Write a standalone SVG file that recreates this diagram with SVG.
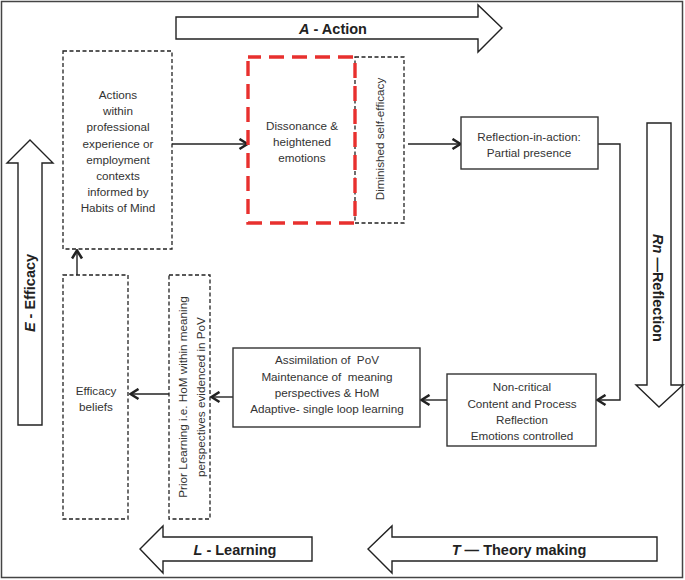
<svg xmlns="http://www.w3.org/2000/svg" width="685" height="580" viewBox="0 0 685 580">
<defs>
<style>
.t{font-family:"Liberation Sans",Arial,sans-serif;font-size:11.7px;fill:#333;text-anchor:middle;white-space:pre}
.b{font-family:"Liberation Sans",Arial,sans-serif;font-size:14.5px;font-weight:bold;fill:#222;text-anchor:middle}
.big{fill:#fff;stroke:#222;stroke-width:1.4;stroke-linejoin:miter}
.dash{fill:#fff;stroke:#222;stroke-width:1.3;stroke-dasharray:4 2.5}
.solid{fill:#fff;stroke:#333;stroke-width:1.4}
.con{fill:none;stroke:#222;stroke-width:1.4}
</style>
<marker id="ah" viewBox="0 0 11 13" refX="10" refY="6.5" markerWidth="11" markerHeight="13" markerUnits="userSpaceOnUse" orient="auto">
<path d="M1.5,1.5 L9.5,6.5 L1.5,11.5" fill="none" stroke="#222" stroke-width="2.6"/>
</marker>
</defs>
<rect x="1.5" y="1.5" width="681" height="576" fill="#fff" stroke="#444" stroke-width="1.5"/>

<g id="arrow-action">
<polygon class="big" points="176,17 478,17 478,5 502,28 478,52 478,39 176,39"/>
<text class="b" x="333" y="34"><tspan font-style="italic">A</tspan> - Action</text>
</g>
<g id="arrow-efficacy">
<polygon class="big" points="18,425 18,163 7,163 30,140 53,163 42,163 42,425"/>
<text class="b" transform="translate(35,293) rotate(-90)"><tspan font-style="italic">E</tspan> - Efficacy</text>
</g>
<g id="arrow-reflection">
<polygon class="big" points="647,123 671,123 671,385 683,385 659,407 636,385 647,385"/>
<text class="b" transform="translate(653,288) rotate(90)"><tspan font-style="italic">Rn</tspan> —Reflection</text>
</g>
<g id="arrow-learning">
<polygon class="big" points="312,537 163,537 163,526 140,549 163,573 163,561 312,561"/>
<text class="b" x="235" y="555"><tspan font-style="italic">L</tspan> - Learning</text>
</g>
<g id="arrow-theory">
<polygon class="big" points="657,537 392,537 392,526 368,549 392,573 392,561 657,561"/>
<text class="b" x="519" y="555"><tspan font-style="italic">T</tspan> — Theory making</text>
</g>

<g id="connectors">
<line class="con" x1="172" y1="144" x2="248" y2="144" marker-end="url(#ah)"/>
<line class="con" x1="408" y1="144" x2="461" y2="144" marker-end="url(#ah)"/>
<polyline class="con" points="598,144 620,144 620,400 597,400" marker-end="url(#ah)"/>
<line class="con" x1="447" y1="400" x2="421" y2="400" marker-end="url(#ah)"/>
<line class="con" x1="233" y1="397" x2="211" y2="397" marker-end="url(#ah)"/>
<line class="con" x1="169" y1="394" x2="130" y2="394" marker-end="url(#ah)"/>
<line class="con" x1="77" y1="275" x2="77" y2="250" marker-end="url(#ah)"/>
</g>

<g id="node-actions">
<rect class="dash" x="63" y="51" width="109" height="198"/>
<text class="t" x="118" y="99">Actions</text>
<text class="t" x="118" y="115.2">within</text>
<text class="t" x="118" y="131.4">professional</text>
<text class="t" x="118" y="147.6">experience or</text>
<text class="t" x="118" y="163.8">employment</text>
<text class="t" x="118" y="180">contexts</text>
<text class="t" x="118" y="196.2">informed by</text>
<text class="t" x="118" y="212.4">Habits of Mind</text>
</g>
<g id="node-diminished">
<rect class="dash" x="355" y="57" width="49" height="166"/>
<text class="t" transform="translate(384,139) rotate(-90)">Diminished self-efficacy</text>
</g>
<g id="node-dissonance">
<rect x="248" y="57" width="107" height="166" fill="none" stroke="#e8302e" stroke-width="3.4" stroke-dasharray="15 8" stroke-dashoffset="2"/>
<text class="t" x="302" y="130">Dissonance &amp;</text>
<text class="t" x="302" y="146">heightened</text>
<text class="t" x="302" y="162">emotions</text>
</g>
<g id="node-reflection-in-action">
<rect class="solid" x="461" y="117" width="137" height="52"/>
<text class="t" x="529" y="141">Reflection-in-action:</text>
<text class="t" x="529" y="157">Partial presence</text>
</g>
<g id="node-noncritical">
<rect class="solid" x="447" y="374" width="149" height="72"/>
<text class="t" x="522" y="391">Non-critical</text>
<text class="t" x="522" y="407.5">Content and Process</text>
<text class="t" x="522" y="424">Reflection</text>
<text class="t" x="522" y="440">Emotions controlled</text>
</g>
<g id="node-assimilation">
<rect class="solid" x="233" y="348" width="187" height="79"/>
<text class="t" x="327" y="364" xml:space="preserve">Assimilation of  PoV</text>
<text class="t" x="327" y="380.5" xml:space="preserve">Maintenance of  meaning</text>
<text class="t" x="327" y="397">perspectives &amp; HoM</text>
<text class="t" x="327" y="413">Adaptive- single loop learning</text>
</g>
<g id="node-prior-learning">
<rect class="dash" x="169" y="275" width="41" height="244"/>
<text class="t" transform="translate(187,397) rotate(-90)">Prior Learning i.e. HoM within meaning</text>
<text class="t" transform="translate(205,397) rotate(-90)">perspectives evidenced in PoV</text>
</g>
<g id="node-efficacy-beliefs">
<rect class="dash" x="63" y="275" width="65" height="244"/>
<text class="t" x="96" y="395">Efficacy</text>
<text class="t" x="96" y="411">beliefs</text>
</g>
</svg>
